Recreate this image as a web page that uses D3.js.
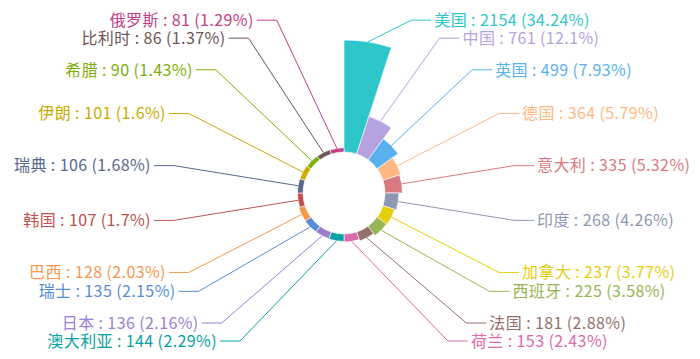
<!DOCTYPE html>
<html><head><meta charset="utf-8">
<script src="https://cdn.jsdelivr.net/npm/d3@7"></script>
<style>body{margin:0;background:#fff} svg{display:block}</style>
</head><body><svg id="c" width="700" height="359"></svg>
<script>
const countries = ["美国","中国","英国","德国","意大利","印度","加拿大","西班牙","法国","荷兰","澳大利亚","日本","瑞士","巴西","韩国","瑞典","伊朗","希腊","比利时","俄罗斯"];
const counts = [2154,761,499,364,335,268,237,225,181,153,144,136,135,128,107,106,101,90,86,81];
const percents = ["34.24","12.1","7.93","5.79","5.32","4.26","3.77","3.58","2.88","2.43","2.29","2.16","2.15","2.03","1.7","1.68","1.6","1.43","1.37","1.29"];
const colors = ['#2ec7c9','#b6a2de','#5ab1ef','#ffb980','#d87a80','#8d98b3','#e5cf0d','#97b552','#95706d','#dc69aa','#07a2a4','#9a7fd1','#588dd5','#f5994e','#c05050','#59678c','#c9ab00','#7eb00a','#6f5553','#c14089'];

const W = 700, H = 359;
const cx = 344, cy = 193, r0 = 41, R = 153;
const len = 22, len2 = 20, labelDist = 3, lh = 18;

const svg = d3.select("#c");
const data = countries.map((c, i) => ({name: c, value: counts[i], pct: percents[i], color: colors[i]}));

const angle = d3.scaleBand().domain(countries).range([0, 2 * Math.PI]).padding(0);
const radius = d3.scaleLinear().domain([0, d3.max(counts)]).range([r0, R]);

const arc = d3.arc()
  .innerRadius(r0)
  .outerRadius(d => radius(d.value))
  .startAngle(d => angle(d.name))
  .endAngle(d => angle(d.name) + angle.bandwidth());

const g = svg.append("g").attr("transform", `translate(${cx},${cy})`);
g.selectAll("path.slice").data(data).join("path")
  .attr("class", "slice")
  .attr("d", arc)
  .attr("fill", d => d.color)
  .attr("stroke", "#fff")
  .attr("stroke-width", 0.6);

// label layout (echarts-like)
const layouts = data.map(d => {
  const a = angle(d.name) + angle.bandwidth() / 2;
  const nx = Math.sin(a), ny = -Math.cos(a);
  const rs = radius(d.value);
  const dir = nx < 0 ? -1 : 1;
  return {
    d, dir,
    x1: cx + rs * nx, y1: cy + rs * ny,
    x: cx + (R + len) * nx + dir * (len2 + labelDist),
    y: cy + (R + len) * ny,
    height: lh, len, len2
  };
});

function adjustSingleSide(list, dir) {
  list.sort((a, b) => a.y - b.y);
  const n = list.length;
  function shiftDown(start, end, delta) {
    for (let j = start; j < end; j++) {
      list[j].y += delta;
      if (j > start && j + 1 < end && list[j + 1].y > list[j].y + list[j].height) {
        shiftUp(j, delta / 2); return;
      }
    }
    shiftUp(end - 1, delta / 2);
  }
  function shiftUp(end, delta) {
    for (let j = end; j >= 0; j--) {
      list[j].y -= delta;
      if (j > 0 && list[j].y > list[j - 1].y + list[j - 1].height) break;
    }
  }
  function changeX(sub, isDown) {
    let last = isDown ? Number.MAX_VALUE : 0;
    for (const it of sub) {
      const dy = Math.abs(it.y - cy);
      let dx = dy < R + it.len
        ? Math.sqrt((R + it.len + it.len2) ** 2 - dy * dy)
        : Math.abs(it.x - cx);
      if (isDown && dx >= last) dx = last - 10;
      if (!isDown && dx <= last) dx = last + 10;
      it.x = cx + dx * dir;
      last = dx;
    }
  }
  let lastY = 0;
  for (let i = 0; i < n; i++) {
    const delta = list[i].y - lastY;
    if (delta < 0) shiftDown(i, n, -delta);
    lastY = list[i].y + list[i].height;
  }
  if (H - lastY < 0) shiftUp(n - 1, lastY - H);
  const up = [], down = [];
  list.forEach(it => (it.y >= cy ? down : up).push(it));
  changeX(up, false);
  changeX(down, true);
}
adjustSingleSide(layouts.filter(l => l.dir > 0), 1);
adjustSingleSide(layouts.filter(l => l.dir < 0), -1);

const lab = svg.append("g");
layouts.forEach(l => {
  const ex = l.x - l.dir * labelDist;
  const bx = ex - l.dir * l.len2;
  lab.append("polyline")
    .attr("points", [[l.x1, l.y1], [bx, l.y], [ex, l.y]].map(p => p.join(",")).join(" "))
    .attr("fill", "none")
    .attr("stroke", l.d.color)
    .attr("stroke-width", 1);
  lab.append("text")
    .attr("x", l.x)
    .attr("y", l.y)
    .attr("dy", "0.36em")
    .attr("text-anchor", l.dir > 0 ? "start" : "end")
    .attr("fill", l.d.color)
    .style("font-family", "'Noto Sans CJK SC', 'Noto Sans', sans-serif")
    .style("font-size", "16px")
    .style("letter-spacing", "0.4px")
    .text(`${l.d.name} : ${l.d.value} (${l.d.pct}%)`);
});
</script>
</body></html>
